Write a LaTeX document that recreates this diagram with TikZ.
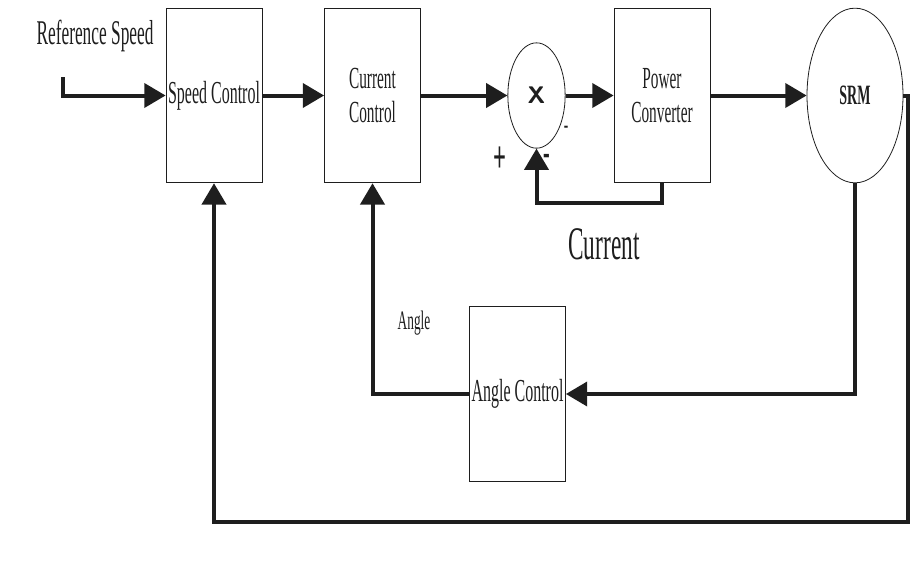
\documentclass[tikz,border=0pt]{standalone}
\usepackage{fontspec}
\usepackage{tikz}
\usetikzlibrary{shapes.geometric,arrows.meta,positioning,calc}
\newfontfamily\narrowfont[FakeStretch=0.5]{Liberation Serif}
\definecolor{lineblack}{RGB}{30, 30, 30}

\begin{document}
\begin{tikzpicture}[
    x=0.75pt, y=-0.75pt,
    every node/.style={font=\narrowfont, align=center, text=lineblack},
    block/.style={rectangle, draw=lineblack, line width=0.6pt, minimum width=72pt, minimum height=131pt, inner sep=0pt},
    roundblock/.style={ellipse, draw=lineblack, line width=0.6pt, inner sep=0pt},
    plain/.style={inner sep=0pt},
    arrow/.style={-{Triangle[length=16pt,width=18pt]}, line width=3pt, draw=lineblack}
]
    \useasboundingbox (0,0) rectangle (921,568);

    % blocks
    \node[block, font=\narrowfont\fontsize{24}{26}\selectfont] (speed) at (214,95.5) {Speed Control};
    \node[block, font=\narrowfont\fontsize{23}{26}\selectfont] (current) at (372.5,95.5) {\raisebox{-3pt}{Current}\\\raisebox{-3pt}{Control}};
    \node[roundblock, minimum width=43pt, minimum height=79pt, font=\sffamily\bfseries\fontsize{18}{20}\selectfont] (mult) at (536.5,95.5) {X};
    \node[block, font=\narrowfont\fontsize{23}{26}\selectfont] (power) at (662,95.5) {\raisebox{-3pt}{Power}\\\raisebox{-3pt}{Converter}};
    \node[roundblock, minimum width=72pt, minimum height=131pt, font=\narrowfont\bfseries\fontsize{21}{23}\selectfont] (srm) at (855,95.5) {SRM};
    \node[block, font=\narrowfont\fontsize{24}{26}\selectfont] (angle) at (517.5,394) {Angle Control};

    % labels
    \node[plain, font=\narrowfont\fontsize{26}{28}\selectfont] (reflabel) at (95,36) {Reference Speed};
    \node[plain, font=\narrowfont\fontsize{35}{38}\selectfont] (curlabel) at (604,244) {Current};
    \node[plain, font=\narrowfont\fontsize{20}{22}\selectfont] (anglabel) at (414,323) {Angle};
    \node[plain, font=\narrowfont\bfseries\fontsize{34}{36}\selectfont] (plus) at (500,160) {+};
    \node[plain, font=\narrowfont\bfseries\fontsize{30}{32}\selectfont] (minusa) at (547,160) {-};
    \node[plain, font=\narrowfont\fontsize{20}{22}\selectfont] (minusb) at (566,130) {-};

    % connector points
    \coordinate (refin) at (63,77);
    \coordinate (ifb) at (536.5,203);
    \coordinate (fbk) at (908,522);

    \draw[arrow] (refin) |- (speed.west);
    \draw[arrow] (speed) -- (current);
    \draw[arrow] (current) -- (mult);
    \draw[arrow] (mult) -- (power);
    \draw[arrow] (power) -- (srm);
    \draw[arrow] (power.south) |- (ifb) -- (mult.south);
    \draw[arrow] (srm.south) |- (angle.east);
    \draw[arrow] (angle.west) -| (current.south);
    \draw[arrow] (srm.east) -| (fbk) -| (speed.south);
\end{tikzpicture}
\end{document}
